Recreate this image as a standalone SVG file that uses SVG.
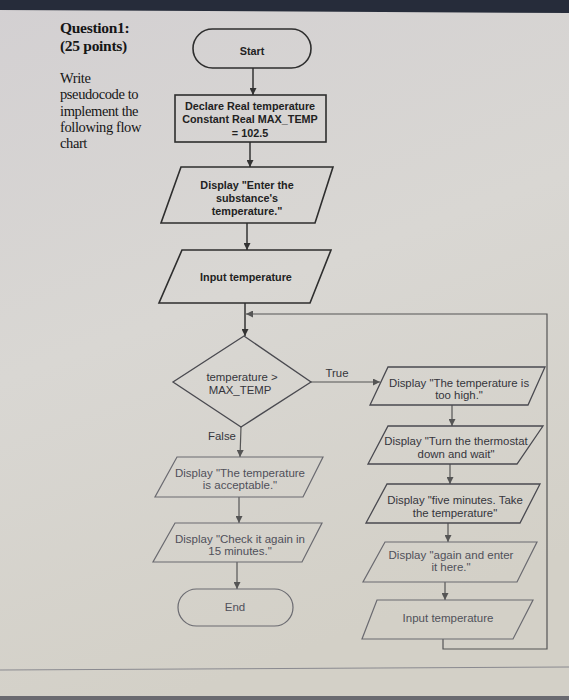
<svg xmlns="http://www.w3.org/2000/svg" width="569" height="700" viewBox="0 0 569 700">
<defs>
<linearGradient id="bg" x1="0" y1="0" x2="0.3" y2="1">
<stop offset="0" stop-color="#d3d0d2"/>
<stop offset="0.5" stop-color="#d9d7d3"/>
<stop offset="1" stop-color="#d3d0c7"/>
</linearGradient>
<marker id="ah" viewBox="0 0 10 10" refX="10" refY="5" markerWidth="8" markerHeight="7" markerUnits="userSpaceOnUse" orient="auto">
<path d="M0,0 L10,5 L0,10 z" fill="#333"/>
</marker>
<marker id="ah2" viewBox="0 0 10 10" refX="10" refY="5" markerWidth="8" markerHeight="7" markerUnits="userSpaceOnUse" orient="auto">
<path d="M0,0 L10,5 L0,10 z" fill="#555"/>
</marker>
</defs>
<style>
.title{font-family:"Liberation Serif",serif;font-weight:bold;font-size:15.5px;fill:#161616;letter-spacing:-0.3px}
.body{font-family:"Liberation Serif",serif;font-size:14.5px;fill:#161616;letter-spacing:-0.4px}
.shp{fill:none;stroke:#2e2e2e;stroke-width:1.6}
.shp2{fill:none;stroke:#4a4a50;stroke-width:1.3}
.shp3{fill:none;stroke:#6a6a70;stroke-width:1.2}
.tb{font-family:"Liberation Sans",Arial,sans-serif;font-weight:bold;font-size:10.8px;fill:#222;text-anchor:middle}
.t2{font-family:"Liberation Sans",Arial,sans-serif;font-size:11.4px;fill:#35353c;text-anchor:middle}
.t3{font-family:"Liberation Sans",Arial,sans-serif;font-size:11.5px;fill:#50505a;text-anchor:middle}
.c1{fill:none;stroke:#333;stroke-width:1.5}
.c2{fill:none;stroke:#555;stroke-width:1.2}
</style>
<rect x="0" y="0" width="569" height="700" fill="url(#bg)"/>
<path d="M0,0 H569 V13 L0,10 z" fill="#262c3a"/>
<line x1="0" y1="670" x2="569" y2="667" stroke="#8a8a90" stroke-width="1"/>
<rect x="0" y="696" width="569" height="4" fill="#6a6a70"/>

<g id="question">
<text class="title" x="60" y="33">Question1:</text>
<text class="title" x="60" y="51">(25 points)</text>
<text class="body" x="60" y="83">Write</text>
<text class="body" x="60" y="99">pseudocode to</text>
<text class="body" x="60" y="116">implement the</text>
<text class="body" x="60" y="132">following flow</text>
<text class="body" x="60" y="148">chart</text>
</g>

<g id="connectors">
<line class="c1" x1="253" y1="68" x2="253" y2="95" marker-end="url(#ah)"/>
<line class="c1" x1="250" y1="142" x2="250" y2="167" marker-end="url(#ah)"/>
<line class="c1" x1="247" y1="223" x2="247" y2="250" marker-end="url(#ah)"/>
<line class="c1" x1="245" y1="303" x2="245" y2="336" marker-end="url(#ah)"/>
<polyline class="c2" points="443,639 443,649 547,649 547,314 246,314" marker-end="url(#ah2)"/>
<line class="c2" x1="311" y1="382" x2="380" y2="382" marker-end="url(#ah2)"/>
<text class="t2" x="337" y="377">True</text>
<line class="c2" x1="452" y1="405" x2="452" y2="426" marker-end="url(#ah2)"/>
<line class="c2" x1="450" y1="464" x2="450" y2="484" marker-end="url(#ah2)"/>
<line class="c2" x1="448" y1="523" x2="448" y2="542" marker-end="url(#ah2)"/>
<line class="c2" x1="445" y1="582" x2="445" y2="600" marker-end="url(#ah2)"/>
<line class="c2" x1="241" y1="427" x2="240" y2="457" marker-end="url(#ah2)"/>
<text class="t2" x="222" y="440">False</text>
<line class="c2" x1="239" y1="497" x2="239" y2="523" marker-end="url(#ah2)"/>
<line class="c2" x1="237" y1="562" x2="237" y2="589" marker-end="url(#ah2)"/>
</g>

<g id="start">
<rect class="shp" x="193" y="29" width="118" height="39" rx="19.5"/>
<text class="tb" x="252" y="55">Start</text>
</g>
<g id="declare">
<rect class="shp" x="175" y="95" width="151" height="47"/>
<text class="tb" x="250" y="110">Declare Real temperature</text>
<text class="tb" x="250" y="123">Constant Real MAX_TEMP</text>
<text class="tb" x="250" y="137">= 102.5</text>
</g>
<g id="display-enter">
<polygon class="shp" points="181,167 333,167 315,223 161,223"/>
<text class="tb" x="247" y="189">Display "Enter the</text>
<text class="tb" x="247" y="202">substance's</text>
<text class="tb" x="247" y="215">temperature."</text>
</g>
<g id="input1">
<polygon class="shp" points="182,250 331,250 310,303 159,303"/>
<text class="tb" x="246" y="281">Input temperature</text>
</g>
<g id="decision">
<polygon class="shp2" points="244,336 311,382 241,427 173,382"/>
<text class="t2" x="242" y="380.5">temperature &gt;</text>
<text class="t2" x="240" y="393.5">MAX_TEMP</text>
</g>
<g id="too-high">
<polygon class="shp2" points="388,367 545,367 528,405 370,405"/>
<text class="t2" x="459" y="386.5">Display "The temperature is</text>
<text class="t2" x="459" y="398.5">too high."</text>
</g>
<g id="thermostat">
<polygon class="shp2" points="388,426 543,426 517,464 368,464"/>
<text class="t2" x="456" y="444.5">Display "Turn the thermostat</text>
<text class="t2" x="456" y="457.5">down and wait"</text>
</g>
<g id="five-minutes">
<polygon class="shp2" points="387,484 540,484 520,523 366,523"/>
<text class="t2" x="455" y="503.5">Display "five minutes. Take</text>
<text class="t2" x="455" y="516.5">the temperature"</text>
</g>
<g id="again">
<polygon class="shp3" points="385,542 537,542 517,582 363,582"/>
<text class="t3" x="451" y="558.5">Display "again and enter</text>
<text class="t3" x="451" y="570.5">it here."</text>
</g>
<g id="input2">
<polygon class="shp3" points="377,600 533,600 513,639 362,639"/>
<text class="t3" x="448" y="621.5">Input temperature</text>
</g>
<g id="acceptable">
<polygon class="shp3" points="177,457 323,457 303,497 155,497"/>
<text class="t3" x="240" y="476.5">Display "The temperature</text>
<text class="t3" x="240" y="488.5">is acceptable."</text>
</g>
<g id="check-again">
<polygon class="shp3" points="175,523 322,523 302,562 153,562"/>
<text class="t3" x="240" y="542.5">Display "Check it again in</text>
<text class="t3" x="240" y="554.5">15 minutes."</text>
</g>
<g id="end">
<rect class="shp3" x="178" y="589" width="115" height="37" rx="18.5"/>
<text class="t3" x="235" y="610.5">End</text>
</g>
</svg>
